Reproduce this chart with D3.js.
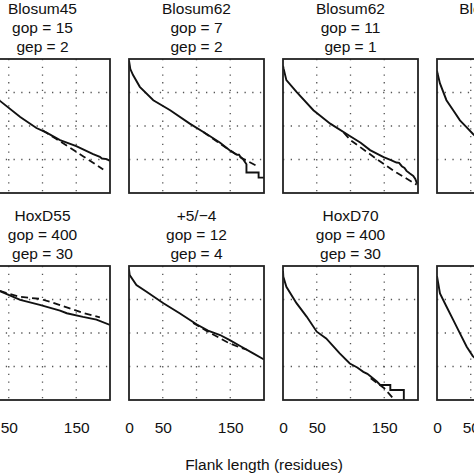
<!DOCTYPE html>
<html>
<head>
<meta charset="utf-8">
<script src="https://cdn.jsdelivr.net/npm/d3@7"></script>
<style>
  body { margin: 0; background: #fff; }
  svg { display: block; }
  text { font-family: "Liberation Sans", Arial, sans-serif; fill: #111; }
</style>
</head>
<body>
<div id="main"></div>
<script>
// Dimensiones del panel
var totalWidth = 474;
var totalHeight = 474;
var panelWidth = 135;
var panelHeight = 134;
var panelStep = 154;
var firstLeft = -25;
var rowTops = [59, 266];

// Datos: x = longitud del flanco, y = log10 de la fracción
var xTicks = [0, 50, 150];
var yGrid = [-1, -2, -3];
var xGrid = [50, 100, 150];

var titles = [
	["Blosum45", "gop = 15", "gep = 2"],
	["Blosum62", "gop = 7", "gep = 2"],
	["Blosum62", "gop = 11", "gep = 1"],
	["Blosum62/80", "gop = 9", "gep = 1"],
	["HoxD55", "gop = 400", "gep = 30"],
	["+5/\u22124", "gop = 12", "gep = 4"],
	["HoxD70", "gop = 400", "gep = 30"],
	["HoxD55", "gop = 30", "gep = 2"]
];

var solidB45 = [[0,0],[3,-0.3],[8,-0.55],[18,-0.85],[37,-1.25],[67,-1.73],[91,-2.06],[106,-2.2],[126,-2.42],[150,-2.6],[175,-2.84],[185,-2.92],[188,-2.97],[195,-2.99],[200,-3.04]];
var dashB45 = [[100,-2.13],[120,-2.38],[140,-2.64],[160,-2.9],[190,-3.3]];

var solidB62a = [[0,-0.05],[2,-0.3],[6,-0.48],[16,-0.83],[36,-1.23],[61,-1.53],[90,-1.93],[115,-2.24],[135,-2.5],[150,-2.74],[160,-2.86],[163,-2.86],[166,-2.95],[169,-2.99],[174,-3.14],[174,-3.39],[192,-3.39],[192,-3.54],[200,-3.54]];
var dashB62a = [[110,-2.18],[140,-2.6],[170,-2.99],[192,-3.22]];

var solidB62b = [[0,-0.2],[1,-0.3],[5,-0.63],[20,-0.98],[45,-1.53],[70,-1.93],[99,-2.3],[115,-2.5],[129,-2.72],[149,-2.93],[160,-3.02],[168,-3.09],[172,-3.1],[176,-3.2],[180,-3.25],[183,-3.34],[188,-3.42],[193,-3.49],[196,-3.58],[198,-3.69],[200,-3.72]];
var dashB62b = [[90,-2.2],[100,-2.42],[139,-2.99],[168,-3.39],[198,-3.75]];

var solidB80 = [[0,-0.35],[1,-0.45],[4.4,-0.73],[14,-1.23],[24,-1.53],[34,-1.83],[44,-2.04],[53,-2.23],[70,-2.55],[100,-3.0],[130,-3.35],[160,-3.6],[190,-3.85],[200,-3.9]];
var dashB80 = [];

var solidH55 = [[0,0],[3,-0.22],[10,-0.42],[20,-0.57],[37,-0.75],[67,-1.01],[96,-1.16],[126,-1.33],[136,-1.41],[160,-1.52],[180,-1.6],[200,-1.76]];
var dashH55 = [[37,-0.74],[52,-0.84],[67,-0.92],[96,-0.98],[116,-1.1],[160,-1.4],[185,-1.53]];

var solidP54 = [[0,-0.1],[1,-0.27],[11,-0.57],[26,-0.77],[51,-1.11],[75,-1.41],[100,-1.74],[117,-1.93],[135,-2.06],[150,-2.22],[164,-2.38],[184,-2.61],[200,-2.79]];
var dashP54 = [[95,-1.7],[117,-1.96],[145,-2.27],[165,-2.44],[175,-2.5]];

var solidH70 = [[0,-0.15],[0.5,-0.32],[5,-0.62],[20,-1.11],[35,-1.51],[50,-1.96],[64,-2.16],[84,-2.61],[99,-2.91],[110,-3.03],[119,-3.16],[125,-3.22],[130,-3.3],[139,-3.45],[144,-3.55],[159,-3.55],[159,-3.7],[179,-3.7],[179,-4.0]];
var dashH70 = [[130,-3.35],[150,-3.65],[163,-3.95]];

var solidLast = [[0,-0.3],[1,-0.42],[4.4,-0.82],[14,-1.21],[24,-1.61],[34,-2.01],[44,-2.41],[53,-2.69],[70,-3.0],[100,-3.4],[130,-3.7],[160,-3.95]];
var dashLast = [];

var solids = [solidB45, solidB62a, solidB62b, solidB80, solidH55, solidP54, solidH70, solidLast];
var dashes = [dashB45, dashB62a, dashB62b, dashB80, dashH55, dashP54, dashH70, dashLast];

var svg = d3.select("#main").append("svg")
	.attr("width", totalWidth)
	.attr("height", totalHeight)
	.attr("style", "background-color: #fff;");

var x = d3.scaleLinear().domain([0, 200]).range([0, panelWidth]);
var y = d3.scaleLinear().domain([-4, 0]).range([panelHeight, 0]);
var line = d3.line().x(function(d) { return x(d[0]); }).y(function(d) { return y(d[1]); });

titles.forEach(function(t, i) {
	var row = Math.floor(i / 4);
	var col = i % 4;
	var left = firstLeft + col * panelStep;
	var top = rowTops[row];
	var g = svg.append("g").attr("transform", "translate(" + left + "," + top + ")");

	g.append("defs").append("clipPath").attr("id", "clip" + i)
		.append("rect").attr("width", panelWidth).attr("height", panelHeight);

	// Rejilla punteada
	g.selectAll("line.gx").data(xGrid).enter().append("line")
		.attr("x1", function(d) { return x(d); }).attr("x2", function(d) { return x(d); })
		.attr("y1", 0).attr("y2", panelHeight)
		.attr("stroke", "#555").attr("stroke-width", 1.3).attr("stroke-dasharray", "1.3,6.4");
	g.selectAll("line.gy").data(yGrid).enter().append("line")
		.attr("y1", function(d) { return y(d); }).attr("y2", function(d) { return y(d); })
		.attr("x1", 0).attr("x2", panelWidth)
		.attr("stroke", "#555").attr("stroke-width", 1.3).attr("stroke-dasharray", "1.3,6.4");

	var plot = g.append("g").attr("clip-path", "url(#clip" + i + ")");
	if (dashes[i].length) {
		plot.append("path").attr("d", line(dashes[i]))
			.attr("fill", "none").attr("stroke", "#111").attr("stroke-width", 1.8)
			.attr("stroke-dasharray", "7,4");
	}
	plot.append("path").attr("d", line(solids[i]))
		.attr("fill", "none").attr("stroke", "#111").attr("stroke-width", 1.9);

	g.append("rect").attr("width", panelWidth).attr("height", panelHeight)
		.attr("fill", "none").attr("stroke", "#222").attr("stroke-width", 1.8);

	// Título de tres líneas
	t.forEach(function(s, k) {
		g.append("text").attr("x", panelWidth / 2).attr("y", -45 + k * 19)
			.attr("text-anchor", "middle").attr("font-size", "15.5px").text(s);
	});

	if (row === 1) {
		var ax = g.append("g").attr("transform", "translate(0," + panelHeight + ")")
			.call(d3.axisBottom(x).tickValues(xTicks).tickSize(0).tickPadding(22).tickFormat(d3.format("d")));
		ax.select(".domain").remove();
		ax.selectAll("text").attr("font-size", "15.5px").attr("font-family", "Liberation Sans, Arial, sans-serif").attr("fill", "#111");
	}
});

svg.append("text").attr("x", 264).attr("y", 470).attr("text-anchor", "middle")
	.attr("font-size", "15.5px").text("Flank length (residues)");
</script>
</body>
</html>
